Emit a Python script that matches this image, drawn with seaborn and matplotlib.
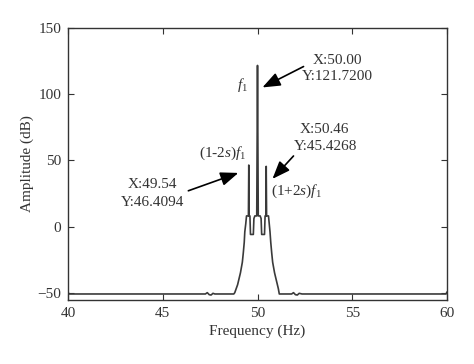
import matplotlib
matplotlib.use("Agg")
import matplotlib.pyplot as plt
import seaborn as sns
import pandas as pd

# Spectrum (Hz, dB)
freq_hz = [40.0, 40.05, 47.25, 47.35, 47.45, 47.55, 47.65, 47.75, 47.9, 48.75,
           48.8, 48.85, 48.9, 48.95, 49.0, 49.05, 49.1, 49.15, 49.2, 49.25,
           49.3, 49.33, 49.38, 49.42, 49.52, 49.54, 49.56, 49.6, 49.63, 49.78,
           49.81, 49.86, 49.96, 50.0, 50.04, 50.14, 50.19, 50.22, 50.37, 50.4,
           50.44, 50.46, 50.48, 50.58, 50.62, 50.66, 50.7, 50.75, 50.8, 50.85,
           50.9, 50.95, 51.0, 51.05, 51.1, 51.15, 51.8, 51.9, 52.0, 52.1,
           52.2, 52.35, 59.95, 60.0]
amp_db = [-49.5, -51.0, -51.0, -50.0, -51.5, -51.8, -50.5, -51.0, -51.0, -51.0,
          -50.0, -48.0, -46.0, -44.0, -41.0, -38.0, -35.0, -31.0, -27.0, -20.0,
          -12.0, -4.0, 2.0, 8.0, 8.0, 46.4094, 8.0, 8.0, -6.0, -6.0,
          6.0, 8.0, 8.0, 121.72, 8.0, 8.0, 6.0, -6.0, -6.0, 8.0,
          8.0, 45.4268, 8.0, 8.0, 2.0, -4.0, -12.0, -20.0, -27.0, -31.0,
          -35.0, -38.0, -41.0, -44.0, -47.0, -51.0, -51.0, -50.0, -51.5, -51.8,
          -50.5, -51.0, -51.0, -49.5]

x_ticks = [40, 45, 50, 55, 60]
y_ticks = [-50, 0, 50, 100, 150]

sns.set_theme(style="ticks")
plt.rcParams["font.family"] = ["Liberation Serif", "DejaVu Serif"]
plt.rcParams["mathtext.fontset"] = "custom"
plt.rcParams["mathtext.rm"] = "Liberation Serif"
plt.rcParams["mathtext.it"] = "Liberation Serif:italic"

df = pd.DataFrame({"Frequency (Hz)": freq_hz, "Amplitude (dB)": amp_db})

fig = plt.figure(figsize=(4.74, 3.64), dpi=100)
ax = fig.add_axes([0.1435, 0.176, 0.7995, 0.747])
sns.lineplot(data=df, x="Frequency (Hz)", y="Amplitude (dB)", estimator=None,
             sort=False, color="#3a3a3a", lw=1.2, ax=ax)

ax.set_xlim(40, 60)
ax.set_ylim(-55.5, 150)
ax.set_xticks(x_ticks)
ax.set_yticks(y_ticks)
ax.tick_params(direction="in", top=True, right=True, length=4, width=0.8,
               colors="#333333", labelsize=11, pad=5)
for t in ax.get_xticklabels() + ax.get_yticklabels():
    t.set_color("#333333")
for s in ax.spines.values():
    s.set_color("#333333")
    s.set_linewidth(1.0)
ax.set_xlabel("Frequency (Hz)", fontsize=11, color="#333333", labelpad=3)
ax.set_ylabel("Amplitude (dB)", fontsize=11, color="#333333", labelpad=2)

tc = "#333333"
fs = 11
ax.text(49.19, 106.6, r"$\mathit{f}_{\mathrm{1}}$", ha="center", va="center", fontsize=fs, color=tc)
ax.text(54.21, 125.4, "X:50.00", ha="center", va="center", fontsize=fs, color=tc)
ax.text(54.21, 113.4, "Y:121.7200", ha="center", va="center", fontsize=fs, color=tc)
ax.text(53.54, 73.6, "X:50.46", ha="center", va="center", fontsize=fs, color=tc)
ax.text(53.60, 60.8, "Y:45.4268", ha="center", va="center", fontsize=fs, color=tc)
ax.text(50.69, 26.5, r"(1+2$\mathit{s}$)$\mathit{f}_{\mathrm{1}}$", ha="left", va="center", fontsize=fs, color=tc)
ax.text(48.15, 55.5, r"(1-2$\mathit{s}$)$\mathit{f}_{\mathrm{1}}$", ha="center", va="center", fontsize=fs, color=tc)
ax.text(44.44, 31.5, "X:49.54", ha="center", va="center", fontsize=fs, color=tc)
ax.text(44.44, 18.0, "Y:46.4094", ha="center", va="center", fontsize=fs, color=tc)

ap = dict(arrowstyle="-|>,head_length=0.9,head_width=0.35", color="black", lw=1.2,
          shrinkA=0, shrinkB=0)
ax.annotate("", xy=(50.26, 105.1), xytext=(52.43, 120.9), arrowprops=ap)
ax.annotate("", xy=(50.79, 36.0), xytext=(51.90, 53.3), arrowprops=ap)
ax.annotate("", xy=(48.99, 40.5), xytext=(46.35, 27.0), arrowprops=ap)

fig.savefig("out.png", dpi=100)
